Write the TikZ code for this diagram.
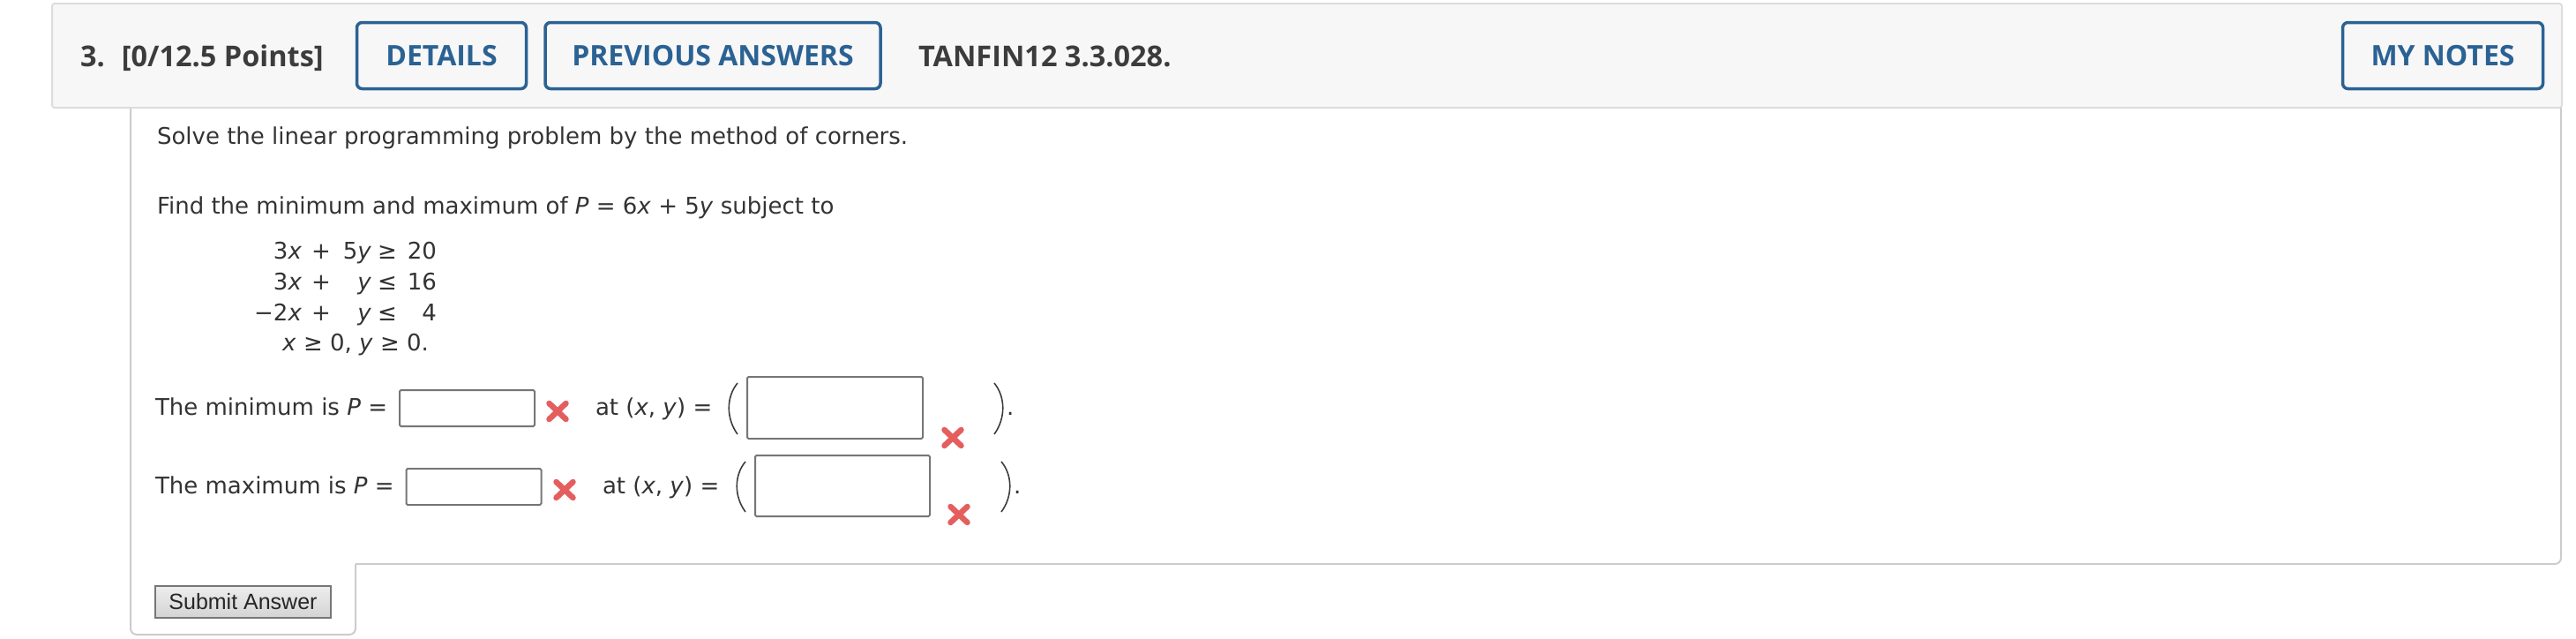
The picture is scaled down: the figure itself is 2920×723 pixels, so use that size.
\documentclass[tikz,border=0pt]{standalone}
\usepackage{fontspec}
\setmainfont{DejaVu Sans}
\newfontfamily\headfont{Open Sans}
\newfontfamily\btnfont{Liberation Sans}
\usetikzlibrary{positioning,calc}
\definecolor{wablue}{RGB}{43,98,148}
\definecolor{headbg}{RGB}{247,247,247}
\definecolor{headline}{RGB}{221,221,221}
\definecolor{panelline}{RGB}{204,204,204}
\definecolor{headink}{RGB}{60,60,60}
\definecolor{inktext}{RGB}{51,51,51}
\definecolor{boxline}{RGB}{118,118,118}
\definecolor{wrongred}{RGB}{228,94,94}

\begin{document}
\begin{tikzpicture}[x=1pt,y=-1pt,inner sep=0pt,outer sep=0pt,
  headtext/.style={font=\headfont\bfseries\fontsize{32.5}{40}\selectfont,text=headink,anchor=base west},
  navbtn/.style={draw=wablue,line width=3.5pt,rounded corners=6pt,minimum height=75pt,text=wablue,
    font=\headfont\bfseries\fontsize{32}{38}\selectfont},
  bodytext/.style={font=\fontsize{26}{35}\selectfont,text=inktext,anchor=base west},
  ansbox/.style={draw=boxline,line width=2pt,fill=white,rounded corners=1.5pt},
  paren/.style={draw=headink,line width=1.6pt},
  wrong/.style={draw=wrongred,line width=6.5pt,line cap=round}]
 \useasboundingbox (0,0) rectangle (2920,723);
 % answer panel
 \draw[panelline,line width=2pt,rounded corners=7pt] (148,122) -- (148,719) -- (403,719) -- (403,639);
 \draw[panelline,line width=2pt,rounded corners=7pt] (403,639) -- (2903,639) -- (2903,122);
 % header bar
 \draw[fill=headbg,draw=headline,line width=2pt,rounded corners=3pt] (59,4) rectangle (2904,122);
 \node[headtext] (qnum) at (91,75) {3.\hspace{19pt}[0/12.5 Points]};
 \node[navbtn,minimum width=192pt] (details) at (500.5,63) {DETAILS};
 \node[navbtn,minimum width=380pt,right=21.5pt of details] (prevans) {PREVIOUS ANSWERS};
 \node[headtext] (code) at (1041,75) {TANFIN12 3.3.028.};
 \node[navbtn,minimum width=227pt] (notes) at (2769,63) {MY NOTES};
 % problem text
 \node[bodytext] (solve) at (178,163) {Solve the linear programming problem by the method of corners.};
 \node[bodytext] (find) at (178,242) {Find the minimum and maximum of \textit{P} = 6\textit{x} + 5\textit{y} subject to};
 \node[bodytext,anchor=base east] (cone) at (495,293) {3\textit{x}\hspace{11pt}+\hspace{14pt}5\textit{y}\hspace{7pt}≥\hspace{12pt}20};
 \node[bodytext,anchor=base east] (ctwo) at (495,328) {3\textit{x}\hspace{11pt}+\hspace{14pt}\phantom{5}\textit{y}\hspace{7pt}≤\hspace{12pt}16};
 \node[bodytext,anchor=base east] (cthree) at (495,363) {−2\textit{x}\hspace{11pt}+\hspace{14pt}\phantom{5}\textit{y}\hspace{7pt}≤\hspace{12pt}\phantom{2}4};
 \node[bodytext,anchor=base east] (cfour) at (486,397) {\textit{x} ≥ 0, \textit{y} ≥ 0.};
 % minimum row
 \node[bodytext] (minlabel) at (176,470) {The minimum is \textit{P} =};
 \node[ansbox,minimum width=153pt,minimum height=41pt] (minval) at (529.5,462.5) {};
 \node[bodytext] (minat) at (675,470) {at (\textit{x}, \textit{y}) =};
 \node[ansbox,minimum width=199pt,minimum height=70pt] (minpt) at (946.5,462) {};
 \node[bodytext] (mindot) at (1141,470) {.};
 \draw[paren] ($(minpt.north west)+(-11,7)$) .. controls ($(minpt.west)+(-24,-12)$) and ($(minpt.west)+(-24,12)$) .. ($(minpt.south west)+(-11,-5)$);
 \draw[paren] ($(minpt.north east)+(81,7)$) .. controls ($(minpt.east)+(94,-12)$) and ($(minpt.east)+(94,12)$) .. ($(minpt.south east)+(81,-5)$);
 % maximum row
 \node[bodytext] (maxlabel) at (176,559) {The maximum is \textit{P} =};
 \node[ansbox,minimum width=153pt,minimum height=41pt] (maxval) at (537,551.5) {};
 \node[bodytext] (maxat) at (683,559) {at (\textit{x}, \textit{y}) =};
 \node[ansbox,minimum width=198pt,minimum height=69pt] (maxpt) at (955,550.5) {};
 \node[bodytext] (maxdot) at (1149,559) {.};
 \draw[paren] ($(maxpt.north west)+(-11,7)$) .. controls ($(maxpt.west)+(-24,-12)$) and ($(maxpt.west)+(-24,12)$) .. ($(maxpt.south west)+(-11,-5)$);
 \draw[paren] ($(maxpt.north east)+(81,7)$) .. controls ($(maxpt.east)+(94,-12)$) and ($(maxpt.east)+(94,12)$) .. ($(maxpt.south east)+(81,-5)$);
 % wrong marks
 \foreach \cx/\cy in {632/466, 1080/496, 640/555, 1087/583} {
   \draw[wrong] (\cx-9.5,\cy-9) -- (\cx+9.5,\cy+9);
   \draw[wrong] (\cx-9.5,\cy+9) -- (\cx+9.5,\cy-9);
 }
 % submit
 \node[draw=boxline,line width=2pt,top color=white!93!black,bottom color=white!83!black,
   minimum width=199pt,minimum height=36pt,font=\btnfont\fontsize{25}{30}\selectfont,text=black!85] (submit) at (275.5,682) {Submit Answer};
\end{tikzpicture}
\end{document}
